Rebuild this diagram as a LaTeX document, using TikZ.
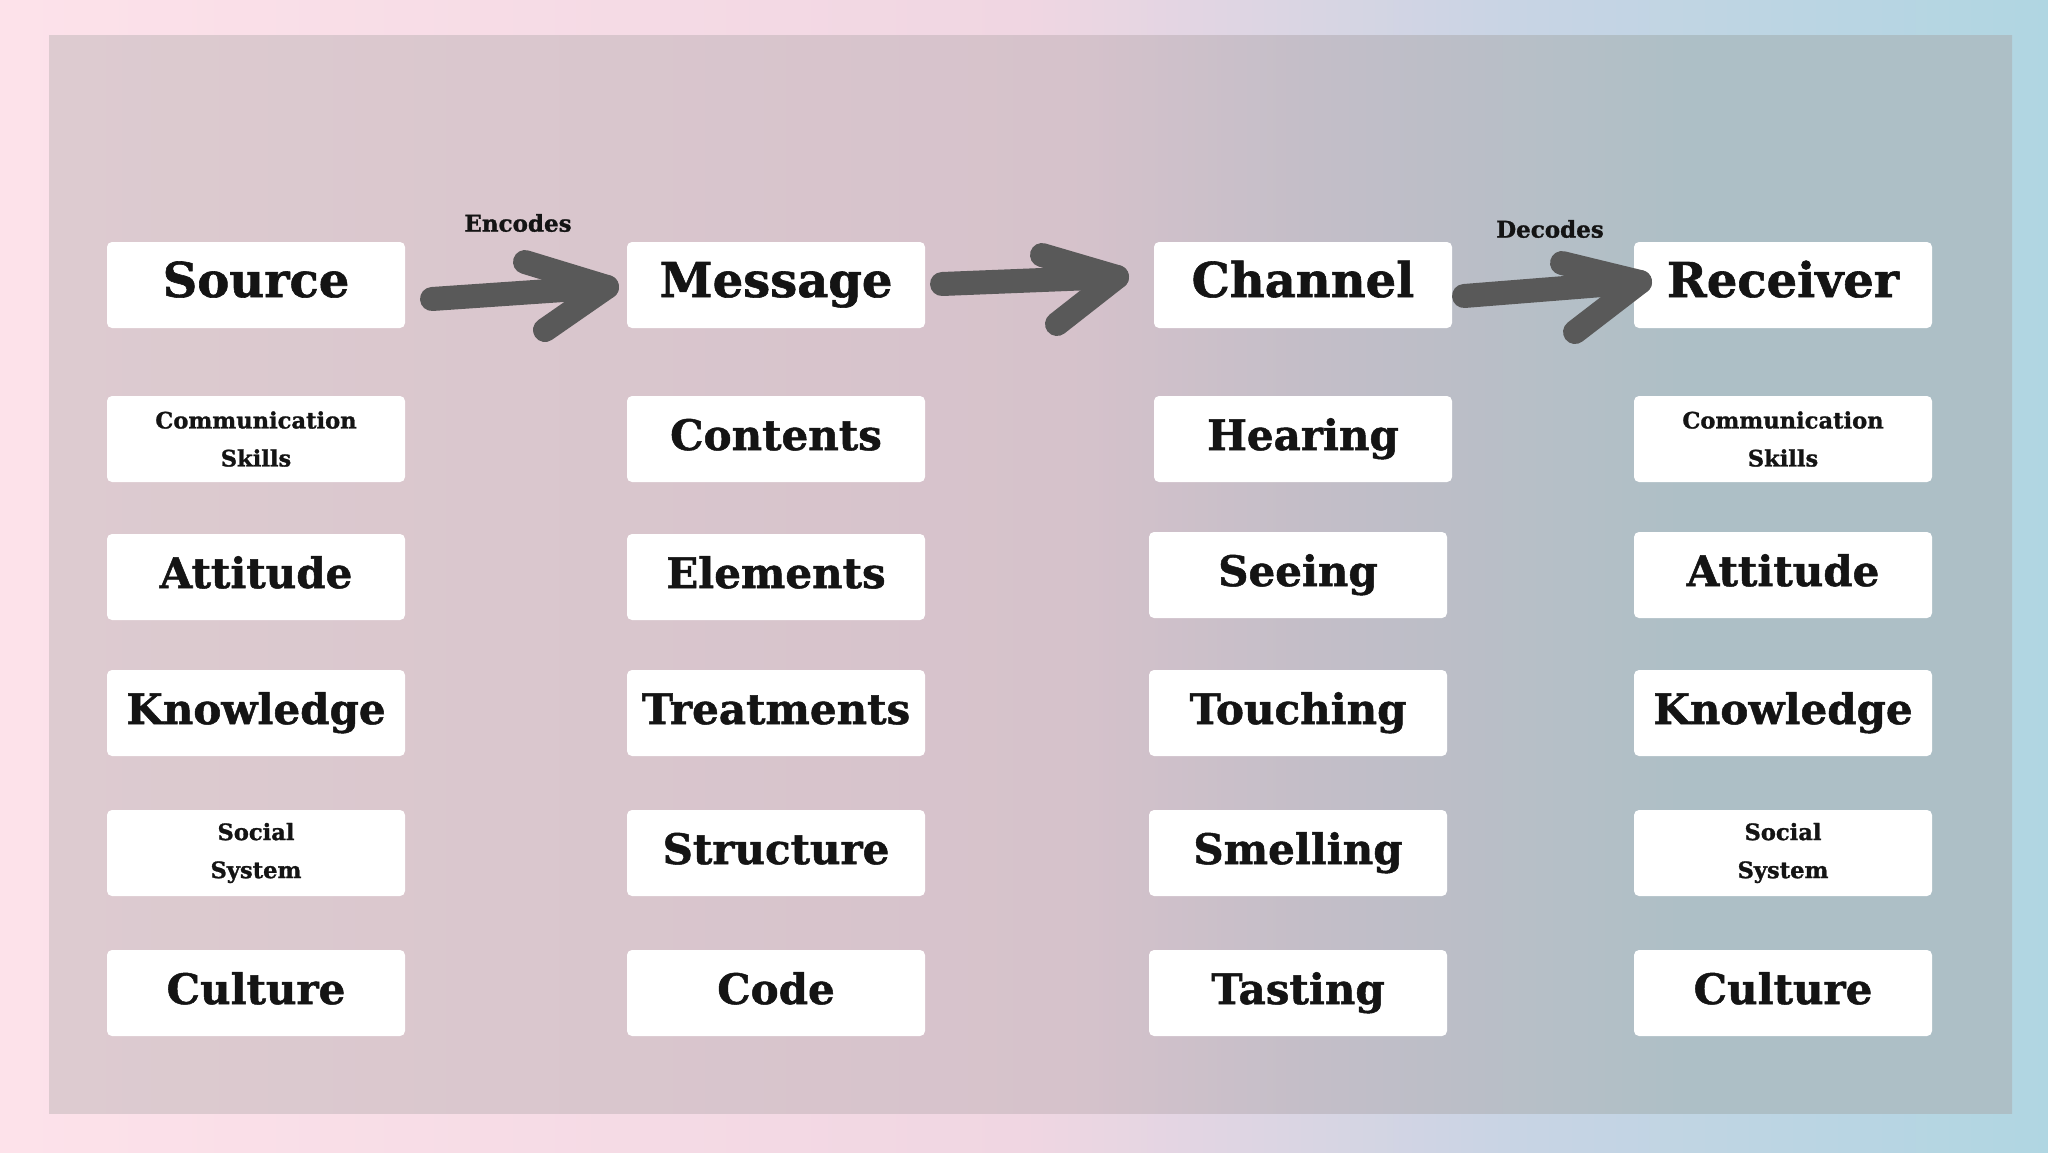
\documentclass[tikz,border=0pt]{standalone}
\usepackage{fontspec}
\setmainfont{DejaVu Serif}[BoldFeatures={FakeBold=1.2}]
\definecolor{pA}{RGB}{221,203,208}
\definecolor{pB}{RGB}{214,194,203}
\definecolor{pC}{RGB}{196,190,200}
\definecolor{pD}{RGB}{173,191,198}
\definecolor{oA}{RGB}{253,226,234}
\definecolor{oB}{RGB}{240,214,226}
\definecolor{oC}{RGB}{200,212,228}
\definecolor{oD}{RGB}{176,214,226}
\pgfdeclarehorizontalshading{panelsh}{100bp}{color(0bp)=(pA); color(25bp)=(pA); color(51bp)=(pB); color(57bp)=(pC); color(67bp)=(pD); color(100bp)=(pD)}
\pgfdeclarehorizontalshading{outersh}{100bp}{color(0bp)=(oA); color(25bp)=(oA); color(50bp)=(oB); color(62bp)=(oC); color(75bp)=(oD); color(100bp)=(oD)}
\begin{document}
\begin{tikzpicture}[x=0.5pt,y=-0.5pt,
  card/.style={fill=white,rounded corners=2.5pt,minimum width=149pt,minimum height=43pt,inner sep=0pt,align=center,text=black!92,font=\bfseries},
  head/.style={card,font=\bfseries\fontsize{24}{28}\selectfont,text height=17pt,text depth=5pt},
  item/.style={card,font=\bfseries\fontsize{21}{26}\selectfont,text height=15pt,text depth=4pt},
  small/.style={card,font=\bfseries\fontsize{11.3}{19}\selectfont},
  lbl/.style={font=\bfseries\fontsize{11.5}{14}\selectfont,text=black!92},
  brush/.style={draw=black!65,line width=12pt,line cap=round,line join=round}]
\useasboundingbox (0,0) rectangle (2048,1152);
\shade[shading=outersh] (0,0) rectangle (2048,1152);
\shade[shading=panelsh] (49,35) rectangle (2012,1113);
% column 1
\node[head] (source) at (256,285) {Source};
\node[small] (cs1) at (256,439) {Communication\\Skills};
\node[item] (att1) at (256,577) {Attitude};
\node[item] (kno1) at (256,713) {Knowledge};
\node[small] (soc1) at (256,853) {Social\\System};
\node[item] (cul1) at (256,993) {Culture};
% column 2
\node[head] (message) at (776,285) {Message};
\node[item] (cont) at (776,439) {Contents};
\node[item] (elem) at (776,577) {Elements};
\node[item] (treat) at (776,713) {Treatments};
\node[item] (struct) at (776,853) {Structure};
\node[item] (code) at (776,993) {Code};
% column 3
\node[head] (channel) at (1303,285) {Channel};
\node[item] (hear) at (1303,439) {Hearing};
\node[item] (see) at (1298,575) {Seeing};
\node[item] (touch) at (1298,713) {Touching};
\node[item] (smell) at (1298,853) {Smelling};
\node[item] (taste) at (1298,993) {Tasting};
% column 4
\node[head] (receiver) at (1783,285) {Receiver};
\node[small] (cs4) at (1783,439) {Communication\\Skills};
\node[item] (att4) at (1783,575) {Attitude};
\node[item] (kno4) at (1783,713) {Knowledge};
\node[small] (soc4) at (1783,853) {Social\\System};
\node[item] (cul4) at (1783,993) {Culture};
% arrows
\coordinate (a1s) at (432,299); \coordinate (a1t) at (607,287);
\draw[brush] (a1s) -- (a1t);
\draw[brush] (525,262) -- (a1t) -- (545,330);
\coordinate (a2s) at (942,284); \coordinate (a2t) at (1117,277);
\draw[brush] (a2s) -- (a2t);
\draw[brush] (1042,255) -- (a2t) -- (1057,324);
\coordinate (a3s) at (1464,296); \coordinate (a3t) at (1640,282);
\draw[brush] (a3s) -- (a3t);
\draw[brush] (1562,263) -- (a3t) -- (1575,332);
\node[lbl] (enc) at (518,223) {Encodes};
\node[lbl] (dec) at (1550,229) {Decodes};
\end{tikzpicture}
\end{document}
